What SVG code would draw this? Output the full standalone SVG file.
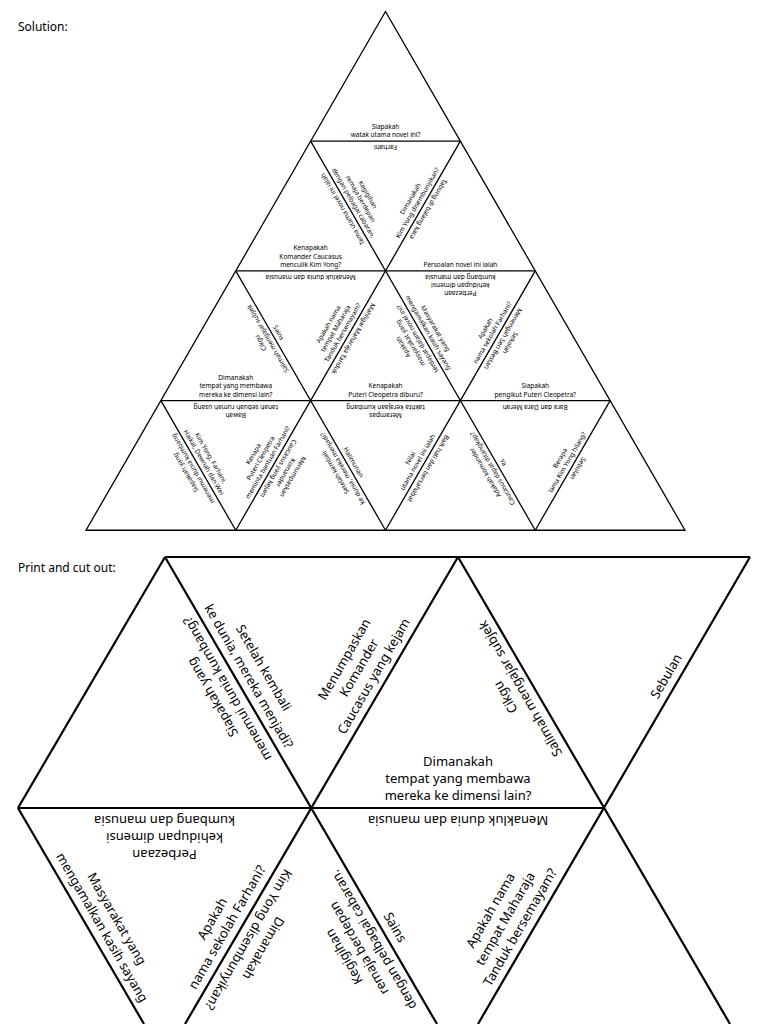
<svg xmlns="http://www.w3.org/2000/svg" width="768" height="1024" viewBox="0 0 768 1024">
<style>
text{font-family:"Noto Sans","Open Sans","DejaVu Sans",sans-serif;fill:#000;text-anchor:middle}
.t{font-size:6.5px}
.b{font-size:13px}
.h{font-size:12px;text-anchor:start}
.ln{stroke:#000;fill:none;stroke-linejoin:miter}
.lt{stroke-width:1.3}
.lb{stroke-width:2.2}
</style>
<rect width="768" height="1024" fill="#fff"/>
<text class="h" x="18" y="31">Solution:</text>
<text class="h" x="18" y="572">Print and cut out:</text>

<g id="connectors">
<g id="grid-top" class="ln lt">
<polygon points="385.5,11.5 86,530.26 685,530.26"/>
<line x1="310.63" y1="141.19" x2="460.38" y2="141.19"/>
<line x1="235.75" y1="270.88" x2="535.25" y2="270.88"/>
<line x1="160.88" y1="400.57" x2="610.13" y2="400.57"/>
<line x1="460.38" y1="141.19" x2="235.75" y2="530.26"/>
<line x1="535.25" y1="270.88" x2="385.5" y2="530.26"/>
<line x1="610.13" y1="400.57" x2="535.25" y2="530.26"/>
<line x1="310.63" y1="141.19" x2="535.25" y2="530.26"/>
<line x1="235.75" y1="270.88" x2="385.5" y2="530.26"/>
<line x1="160.88" y1="400.57" x2="235.75" y2="530.26"/>
</g>
<g id="grid-print" class="ln lb">
<line x1="165" y1="557" x2="750" y2="557"/>
<line x1="18" y1="808" x2="604" y2="808"/>
<line x1="165" y1="557" x2="18" y2="808"/>
<line x1="165" y1="557" x2="437" y2="1024"/>
<line x1="458" y1="557" x2="185" y2="1024"/>
<line x1="458" y1="557" x2="730" y2="1024"/>
<line x1="750" y1="557" x2="478" y2="1024"/>
<line x1="18" y1="808" x2="144" y2="1024"/>
</g>
</g>

<g id="solution-texts" class="t">
<g id="e1a" transform="translate(385.5,141.19)"><text><tspan x="0" y="-12.3">Siapakah</tspan><tspan x="0" y="-4">watak utama novel ini?</tspan></text></g>
<g id="e1b" transform="translate(385.5,141.19) rotate(180)"><text><tspan x="0" y="-4">Farhani</tspan></text></g>

<g id="e2a" transform="translate(348.07,206.04) rotate(240)"><text><tspan x="0" y="-4">Tema utama novel ini ialah</tspan></text></g>
<g id="e2b" transform="translate(348.07,206.04) rotate(60)"><text><tspan x="0" y="-20.6">Kegigihan</tspan><tspan x="0" y="-12.3">remaja berdepan</tspan><tspan x="0" y="-4">dengan pelbagai cabaran.</tspan></text></g>

<g id="e3a" transform="translate(422.94,206.04) rotate(300)"><text><tspan x="0" y="-12.3">Dimanakah</tspan><tspan x="0" y="-4">Kim Yong disembunyikan?</tspan></text></g>
<g id="e3b" transform="translate(422.94,206.04) rotate(120)"><text><tspan x="0" y="-4">Tabung di balang kaca</tspan></text></g>

<g id="e4a" transform="translate(310.63,270.88)"><text><tspan x="0" y="-20.6">Kenapakah</tspan><tspan x="0" y="-12.3">Komander Caucasus</tspan><tspan x="0" y="-4">menculik Kim Yong?</tspan></text></g>
<g id="e4b" transform="translate(310.63,270.88) rotate(180)"><text><tspan x="0" y="-4">Menakluk dunia dan manusia</tspan></text></g>

<g id="e5a" transform="translate(460.38,270.88)"><text><tspan x="0" y="-4">Persoalan novel ini ialah</tspan></text></g>
<g id="e5b" transform="translate(460.38,270.88) rotate(180)"><text><tspan x="0" y="-20.6">Perbezaan</tspan><tspan x="0" y="-12.3">kehidupan dimensi</tspan><tspan x="0" y="-4">kumbang dan manusia</tspan></text></g>

<g id="e6a" transform="translate(273.19,335.73) rotate(240)"><text><tspan x="0" y="-12.3">Cikgu</tspan><tspan x="0" y="-4">Salimah mengajar subjek</tspan></text></g>
<g id="e6b" transform="translate(273.19,335.73) rotate(60)"><text><tspan x="0" y="-4">Sains</tspan></text></g>

<g id="e7a" transform="translate(348.07,335.73) rotate(300)"><text><tspan x="0" y="-20.6">Apakah nama</tspan><tspan x="0" y="-12.3">tempat Maharaja</tspan><tspan x="0" y="-4">Tanduk bersemayam?</tspan></text></g>
<g id="e7b" transform="translate(348.07,335.73) rotate(120)"><text><tspan x="0" y="-4">Mahligai Maharaja Tanduk</tspan></text></g>

<g id="e8a" transform="translate(422.94,335.73) rotate(240)"><text><tspan x="0" y="-20.6">Apakah</tspan><tspan x="0" y="-12.3">masyarakat yang</tspan><tspan x="0" y="-4">terdapat dalam novel ini?</tspan></text></g>
<g id="e8b" transform="translate(422.94,335.73) rotate(60)"><text><tspan x="0" y="-12.3">Masyarakat yang</tspan><tspan x="0" y="-4">mengamalkan kasih sayang</tspan></text></g>

<g id="e9a" transform="translate(497.82,335.73) rotate(300)"><text><tspan x="0" y="-12.3">Apakah</tspan><tspan x="0" y="-4">nama sekolah Farhani?</tspan></text></g>
<g id="e9b" transform="translate(497.82,335.73) rotate(120)"><text><tspan x="0" y="-12.3">Sekolah</tspan><tspan x="0" y="-4">Menengah Seri Bestari</tspan></text></g>

<g id="e10a" transform="translate(235.75,400.57)"><text><tspan x="0" y="-20.6">Dimanakah</tspan><tspan x="0" y="-12.3">tempat yang membawa</tspan><tspan x="0" y="-4">mereka ke dimensi lain?</tspan></text></g>
<g id="e10b" transform="translate(235.75,400.57) rotate(180)"><text><tspan x="0" y="-12.3">Bawah</tspan><tspan x="0" y="-4">tanah sebuah rumah usang</tspan></text></g>
<g id="e10c" transform="translate(385.5,400.57)"><text><tspan x="0" y="-12.3">Kenapakah</tspan><tspan x="0" y="-4">Puteri Cleopetra diburu?</tspan></text></g>
<g id="e10d" transform="translate(385.5,400.57) rotate(180)"><text><tspan x="0" y="-12.3">Merampas</tspan><tspan x="0" y="-4">takhta kerajaan kumbang</tspan></text></g>
<g id="e10e" transform="translate(535.25,400.57)"><text><tspan x="0" y="-12.3">Siapakah</tspan><tspan x="0" y="-4">pengikut Puteri Cleopetra?</tspan></text></g>
<g id="e10f" transform="translate(535.25,400.57) rotate(180)"><text><tspan x="0" y="-4">Bara dan Dara Merah</tspan></text></g>

<g id="e11a" transform="translate(198.32,465.42) rotate(240)"><text><tspan x="0" y="-12.3">Siapakah yang</tspan><tspan x="0" y="-4">menemui dunia kumbang</tspan></text></g>
<g id="e11b" transform="translate(198.32,465.42) rotate(60)"><text><tspan x="0" y="-12.3">Kim Yong, Farhani,</tspan><tspan x="0" y="-4">Haikal, Dewnah dan Wei</tspan></text></g>

<g id="e12a" transform="translate(273.19,465.42) rotate(300)"><text><tspan x="0" y="-20.6">Kenapa</tspan><tspan x="0" y="-12.3">Puteri Cleopetra</tspan><tspan x="0" y="-4">meminta bantuan Farhani?</tspan></text></g>
<g id="e12b" transform="translate(273.19,465.42) rotate(120)"><text><tspan x="0" y="-20.6">Menumpaskan</tspan><tspan x="0" y="-12.3">Komander</tspan><tspan x="0" y="-4">Caucasus yang kejam</tspan></text></g>

<g id="e13a" transform="translate(348.07,465.42) rotate(240)"><text><tspan x="0" y="-12.3">Setelah kembali</tspan><tspan x="0" y="-4">ke dunia, mereka menjadi?</tspan></text></g>
<g id="e13b" transform="translate(348.07,465.42) rotate(60)"><text><tspan x="0" y="-4">Halimunan</tspan></text></g>

<g id="e14a" transform="translate(422.94,465.42) rotate(300)"><text><tspan x="0" y="-12.3">Nilai</tspan><tspan x="0" y="-4">utama novel ini ialah</tspan></text></g>
<g id="e14b" transform="translate(422.94,465.42) rotate(120)"><text><tspan x="0" y="-4">Baik hati dan bersahabat</tspan></text></g>

<g id="e15a" transform="translate(497.82,465.42) rotate(240)"><text><tspan x="0" y="-12.3">Adakah komander</tspan><tspan x="0" y="-4">Caucasus dapat ditangkap?</tspan></text></g>
<g id="e15b" transform="translate(497.82,465.42) rotate(60)"><text><tspan x="0" y="-4">Ya</tspan></text></g>

<g id="e16a" transform="translate(572.69,465.42) rotate(300)"><text><tspan x="0" y="-12.3">Berapa</tspan><tspan x="0" y="-4">lama Kim Yong hilang?</tspan></text></g>
<g id="e16b" transform="translate(572.69,465.42) rotate(120)"><text><tspan x="0" y="-4">Sebulan</tspan></text></g>
</g>

<g id="print-texts" class="b">
<g id="p1a" transform="translate(238,682.5) rotate(240)"><text><tspan x="0" y="-25">Siapakah yang</tspan><tspan x="0" y="-8">menemui dunia kumbang?</tspan></text></g>
<g id="p1b" transform="translate(238,682.5) rotate(60)"><text><tspan x="0" y="-25">Setelah kembali</tspan><tspan x="0" y="-8">ke dunia, mereka menjadi?</tspan></text></g>
<g id="p2" transform="translate(384.5,682.5) rotate(300)"><text><tspan x="0" y="-42">Menumpaskan</tspan><tspan x="0" y="-25">Komander</tspan><tspan x="0" y="-8">Caucasus yang kejam</tspan></text></g>
<g id="p3" transform="translate(531,682.5) rotate(240)"><text><tspan x="0" y="-25">Cikgu</tspan><tspan x="0" y="-8">Salimah mengajar subjek</tspan></text></g>
<g id="p4" transform="translate(677,682.5) rotate(300)"><text><tspan x="0" y="-8">Sebulan</tspan></text></g>
<g id="p5a" transform="translate(458,808)"><text><tspan x="0" y="-42">Dimanakah</tspan><tspan x="0" y="-25">tempat yang membawa</tspan><tspan x="0" y="-8">mereka ke dimensi lain?</tspan></text></g>
<g id="p5b" transform="translate(458,808) rotate(180)"><text><tspan x="0" y="-8">Menakluk dunia dan manusia</tspan></text></g>
<g id="p6" transform="translate(164.5,808) rotate(180)"><text><tspan x="0" y="-42">Perbezaan</tspan><tspan x="0" y="-25">kehidupan dimensi</tspan><tspan x="0" y="-8">kumbang dan manusia</tspan></text></g>
<g id="p7" transform="translate(91.3,933.5) rotate(60)"><text><tspan x="0" y="-25">Masyarakat yang</tspan><tspan x="0" y="-8">mengamalkan kasih sayang</tspan></text></g>
<g id="p8a" transform="translate(237.8,933.5) rotate(300)"><text><tspan x="0" y="-25">Apakah</tspan><tspan x="0" y="-8">nama sekolah Farhani?</tspan></text></g>
<g id="p8b" transform="translate(237.8,933.5) rotate(120)"><text><tspan x="0" y="-25">Dimanakah</tspan><tspan x="0" y="-8">Kim Yong disembunyikan?</tspan></text></g>
<g id="p9a" transform="translate(384.3,933.5) rotate(240)"><text><tspan x="0" y="-42">Kegigihan</tspan><tspan x="0" y="-25">remaja berdepan</tspan><tspan x="0" y="-8">dengan pelbagai cabaran.</tspan></text></g>
<g id="p9b" transform="translate(384.3,933.5) rotate(60)"><text><tspan x="0" y="-8">Sains</tspan></text></g>
<g id="p10" transform="translate(530.8,933.5) rotate(300)"><text><tspan x="0" y="-42">Apakah nama</tspan><tspan x="0" y="-25">tempat Maharaja</tspan><tspan x="0" y="-8">Tanduk bersemayam?</tspan></text></g>
</g>
</svg>
